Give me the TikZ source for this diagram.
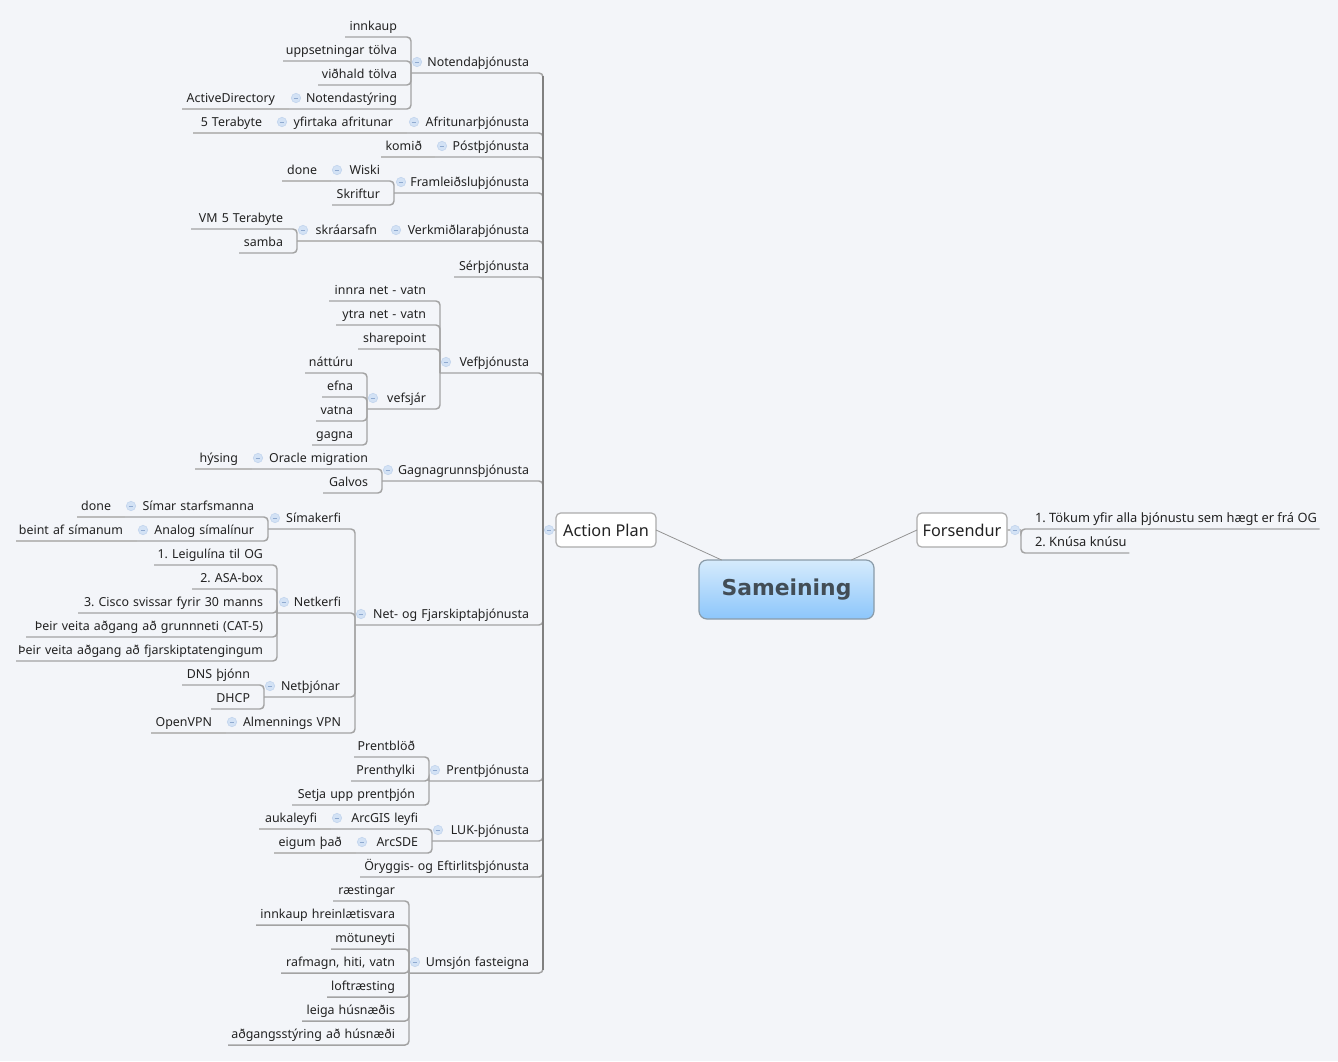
\documentclass[tikz,border=0pt]{standalone}
\usepackage{fontspec}
\setmainfont{Noto Sans}
\newfontfamily\rootf{DejaVu Sans Bold}
\frenchspacing
\definecolor{bgc}{HTML}{F3F5F9}
\definecolor{linec}{HTML}{A3A3A3}
\definecolor{flatc}{HTML}{BBBBBB}
\definecolor{trunkc}{HTML}{808080}
\definecolor{txtc}{HTML}{222222}
\definecolor{boxc}{HTML}{ABABAB}
\definecolor{icf}{HTML}{D3E2F5}
\definecolor{icl}{HTML}{C4D6EE}
\definecolor{icm}{HTML}{8FAAD0}
\definecolor{rootd}{HTML}{8A9BA8}
\definecolor{roottop}{HTML}{D6EBFC}
\definecolor{rootbot}{HTML}{8CC6FB}
\definecolor{rootink}{HTML}{424D56}
\tikzset{
  tp/.style={inner sep=0pt,outer sep=0pt,text height=8pt,text depth=4.9pt,font=\fontsize{9.3}{11}\selectfont,text=txtc,align=right},
  tl/.style={tp,align=left,font=\fontsize{9.65}{11}\selectfont},
  conn/.style={draw=linec,line width=1.1pt,rounded corners=3pt},
  flat/.style={draw=flatc,line width=1.1pt},
  trunk/.style={draw=trunkc,line width=1.5pt},
  mainbox/.style={draw=boxc,line width=0.9pt,fill=white,rounded corners=3.5pt,inner sep=0pt,outer sep=0pt,text=txtc,font=\fontsize{12.2}{15}\selectfont},
  rootbox/.style={draw=rootd,line width=0.9pt,top color=roottop,bottom color=rootbot,rounded corners=6pt,inner sep=0pt,outer sep=0pt,text=rootink,font=\rootf\fontsize{16.4}{21}\selectfont},
  spoke/.style={draw=gray!85,line width=0.6pt},
  ico/.style={circle,draw=icl,fill=icf,line width=0.5pt,minimum size=7pt,inner sep=0pt,
    path picture={\draw[icm,line width=0.5pt] ([xshift=-1.8pt]path picture bounding box.center)--([xshift=1.8pt]path picture bounding box.center);}}
}
\newcounter{icn}
\newcommand{\tp}[5]{\pgfmathsetmacro\wid{(#4-#3)*0.75}\node[tp,text width=\wid pt,anchor=south west] (#1) at (#3,#5) {#2};}
\newcommand{\ed}[2]{\draw[conn] (#1.south west) -- (#1.south east -| #2.south west) -- (#2.south west);}
\newcommand{\es}[2]{\draw[flat] (#1.south west) -- (#2.south west);}
\newcommand{\et}[1]{\draw[conn] (#1.south west) -- (#1.south east -| apt) -- (apt);}
\newcommand{\ic}[2]{\stepcounter{icn}\node[ico] (ic\theicn) at (#1,#2) {};}
\begin{document}
\begin{tikzpicture}[x=0.75pt,y=-0.75pt]
\useasboundingbox[fill=bgc] (0,0) rectangle (1338,1061);
% central
\node[rootbox,minimum width=131.25pt,minimum height=44.25pt,anchor=north west] (root) at (699,560) {Sameining};
\node[mainbox,minimum width=75pt,minimum height=25.5pt,anchor=north west] (ap) at (556,513) {Action Plan};
\node[mainbox,minimum width=67.5pt,minimum height=25.5pt,anchor=north west] (fo) at (917,513) {Forsendur};
\coordinate (apt) at (543,530);
\coordinate (fpt) at (1021,530);
\coordinate (aptop) at (543,76);
\coordinate (apbot) at (543,970);
\draw[spoke] (ap.east) -- ([xshift=17pt]root.north west);
\draw[spoke] (fo.west) -- ([xshift=-17pt]root.north east);
% right
\node[tl,anchor=south west] (ft) at (1035,529) {1. Tökum yfir alla þjónustu sem hægt er frá OG};
\node[tl,anchor=south west] (fk) at (1035,553) {2. Knúsa knúsu};
\draw[conn] (ft.south east) -- ++(5,0) -- (ft.south west) -- (ft.south west -| fpt) -- (fpt);
\draw[conn] (fk.south east) -- ++(5,0) -- (fk.south west) -- (fk.south west -| fpt) -- (fpt);
\draw[flat] (fpt) -- (fo.east);
\draw[flat] (apt) -- (ap.west);
% level 1
\tp{n1}{Notendaþjónusta}{411}{529}{73}
\tp{n2}{Afritunarþjónusta}{407}{529}{133}
\tp{n3}{Póstþjónusta}{435}{529}{157}
\tp{n4}{Framleiðsluþjónusta}{394}{529}{193}
\tp{n5}{Verkmiðlaraþjónusta}{390}{529}{241}
\tp{n6}{Sérþjónusta}{454}{529}{277}
\tp{n7}{Vefþjónusta}{440}{529}{373}
\tp{n8}{Gagnagrunnsþjónusta}{382}{529}{481}
\tp{n9}{Net- og Fjarskiptaþjónusta}{355}{529}{625}
\tp{n10}{Prentþjónusta}{429}{529}{781}
\tp{n11}{LUK-þjónusta}{432}{529}{841}
\tp{n12}{Öryggis- og Eftirlitsþjónusta}{360}{529}{877}
\tp{n13}{Umsjón fasteigna}{409}{529}{973}
% Notenda
\tp{a1}{innkaup}{345}{397}{37}
\tp{a2}{uppsetningar tölva}{283}{397}{61}
\tp{a3}{viðhald tölva}{318}{397}{85}
\tp{a4}{Notendastýring}{289}{397}{109}
\tp{a5}{ActiveDirectory}{182}{275}{109}
% Afritun
\tp{b1}{yfirtaka afritunar}{276}{393}{133}
\tp{b2}{5 Terabyte}{193}{262}{133}
% Post
\tp{c1}{komið}{381}{422}{157}
% Framl
\tp{d1}{Wiski}{331}{380}{181}
\tp{d2}{done}{282}{317}{181}
\tp{d3}{Skriftur}{332}{380}{205}
% Verk
\tp{e1}{skráarsafn}{297}{377}{241}
\tp{e2}{VM 5 Terabyte}{191}{283}{229}
\tp{e3}{samba}{239}{283}{253}
% Vef
\tp{f1}{innra net - vatn}{329}{426}{301}
\tp{f2}{ytra net - vatn}{336}{426}{325}
\tp{f3}{sharepoint}{358}{426}{349}
\tp{f4}{vefsjár}{367}{426}{409}
\tp{f5}{náttúru}{305}{353}{373}
\tp{f6}{efna}{322}{353}{397}
\tp{f7}{vatna}{316}{353}{421}
\tp{f8}{gagna}{312}{353}{445}
% Gagna
\tp{g1}{Oracle migration}{252}{368}{469}
\tp{g2}{hýsing}{195}{238}{469}
\tp{g3}{Galvos}{323}{368}{493}
% Net
\tp{h1}{Símakerfi}{268}{341}{529}
\tp{h2}{Símar starfsmanna}{125}{254}{517}
\tp{h3}{done}{77}{111}{517}
\tp{h4}{Analog símalínur}{137}{254}{541}
\tp{h5}{beint af símanum}{16}{123}{541}
\tp{i1}{Netkerfi}{277}{341}{613}
\tp{i2}{1. Leigulína til OG}{154}{263}{565}
\tp{i3}{2. ASA-box}{192}{263}{589}
\tp{i4}{3. Cisco svissar fyrir 30 manns}{78}{263}{613}
\tp{i5}{Þeir veita aðgang að grunnneti (CAT-5)}{26}{263}{637}
\tp{i6}{Þeir veita aðgang að fjarskiptatengingum}{16}{263}{661}
\tp{j1}{Netþjónar}{264}{340}{697}
\tp{j2}{DNS þjónn}{182}{250}{685}
\tp{j3}{DHCP}{211}{250}{709}
\tp{k1}{Almennings VPN}{226}{341}{733}
\tp{k2}{OpenVPN}{151}{212}{733}
% Prent
\tp{l1}{Prentblöð}{354}{415}{757}
\tp{l2}{Prenthylki}{351}{415}{781}
\tp{l3}{Setja upp prentþjón}{292}{415}{805}
% LUK
\tp{m1}{ArcGIS leyfi}{331}{418}{829}
\tp{m2}{aukaleyfi}{259}{317}{829}
\tp{m3}{ArcSDE}{356}{418}{853}
\tp{m4}{eigum það}{274}{342}{853}
% Umsjon
\tp{o1}{ræstingar}{333}{395}{901}
\tp{o2}{innkaup hreinlætisvara}{256}{395}{925}
\tp{o3}{mötuneyti}{331}{395}{949}
\tp{o4}{rafmagn, hiti, vatn}{281}{395}{973}
\tp{o5}{loftræsting}{327}{395}{997}
\tp{o6}{leiga húsnæðis}{302}{395}{1021}
\tp{o7}{aðgangsstýring að húsnæði}{228}{395}{1045}
% connectors
\foreach \c in {n1,n2,n3,n4,n5,n6,n7,n8,n9,n10,n11,n12,n13}{\et{\c}}
\foreach \c in {a1,a2,a3,a4}{\ed{\c}{n1}}
\es{a5}{a4}
\es{b1}{n2} \es{b2}{b1} \es{c1}{n3}
\ed{d1}{n4} \ed{d3}{n4} \es{d2}{d1}
\es{e1}{n5} \ed{e2}{e1} \ed{e3}{e1}
\foreach \c in {f1,f2,f3,f4}{\ed{\c}{n7}}
\foreach \c in {f5,f6,f7,f8}{\ed{\c}{f4}}
\ed{g1}{n8} \ed{g3}{n8} \es{g2}{g1}
\foreach \c in {h1,i1,j1,k1}{\ed{\c}{n9}}
\ed{h2}{h1} \ed{h4}{h1} \es{h3}{h2} \es{h5}{h4}
\foreach \c in {i2,i3,i4,i5,i6}{\ed{\c}{i1}}
\ed{j2}{j1} \ed{j3}{j1} \es{k2}{k1}
\foreach \c in {l1,l2,l3}{\ed{\c}{n10}}
\ed{m1}{n11} \ed{m3}{n11} \es{m2}{m1} \es{m4}{m3}
\foreach \c in {o1,o2,o3,o4,o5,o6,o7}{\ed{\c}{n13}}
\draw[trunk] (aptop) -- (apbot);
% collapse icons
\ic{417}{62}\ic{296}{98}\ic{414}{122}\ic{282}{122}\ic{442}{146}\ic{401}{182}\ic{337}{170}
\ic{396}{230}\ic{303}{230}\ic{446}{362}\ic{373}{398}\ic{388}{470}\ic{258}{458}
\ic{361}{614}\ic{275}{518}\ic{131}{506}\ic{143}{530}\ic{284}{602}\ic{270}{686}\ic{232}{722}
\ic{435}{770}\ic{438}{830}\ic{337}{818}\ic{362}{842}\ic{415}{962}\ic{549}{530}\ic{1015}{530}
\end{tikzpicture}
\end{document}
